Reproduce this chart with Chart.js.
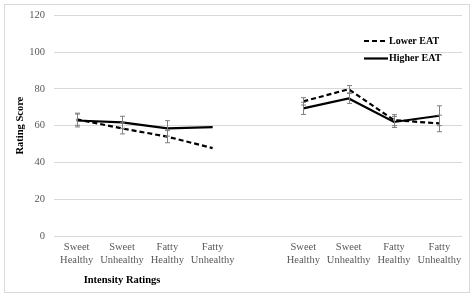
<!DOCTYPE html>
<html>
<head>
<meta charset="utf-8">
<script src="https://cdn.jsdelivr.net/npm/chart.js@4.4.1/dist/chart.umd.min.js"></script>
<style>
html,body{margin:0;padding:0;background:#fff;}
canvas{display:block;}
</style>
</head>
<body>
<canvas id="c" width="474" height="297"></canvas>
<script>
const categories = [["Sweet","Healthy"],["Sweet","Unhealthy"],["Fatty","Healthy"],["Fatty","Unhealthy"],"",["Sweet","Healthy"],["Sweet","Unhealthy"],["Fatty","Healthy"],["Fatty","Unhealthy"]];
const lowerEAT = [63.5, 58.5, 54, 47.8, null, 73.2, 79.8, 63, 61.2];
const higherEAT = [62.8, 61.8, 58.5, 59.2, null, 69.4, 74.8, 62, 65.4];
const lowerErr = [3.3, 3, 3.3, 0, null, 2, 2, 3, 4.5];
const higherErr = [3.5, 3.3, 4.2, 0, null, 3.3, 2.7, 3, 5.4];
const yTicks = [0, 20, 40, 60, 80, 100, 120];

const SERIF = "'Liberation Serif', 'Times New Roman', serif";

const errorBars = {
  id: 'errorBars',
  afterDatasetsDraw(chart) {
    const ctx = chart.ctx;
    const y = chart.scales.y;
    const errs = [lowerErr, higherErr];
    ctx.save();
    ctx.strokeStyle = '#7f7f7f';
    ctx.lineWidth = 1;
    chart.data.datasets.forEach((ds, di) => {
      const meta = chart.getDatasetMeta(di);
      meta.data.forEach((pt, i) => {
        const v = ds.data[i], e = errs[di][i];
        if (v == null || !e) return;
        const x = Math.round(pt.x) + 0.5;
        const y1 = y.getPixelForValue(v + e), y2 = y.getPixelForValue(v - e);
        ctx.beginPath();
        ctx.moveTo(x, y1); ctx.lineTo(x, y2);
        ctx.moveTo(x - 2.5, y1); ctx.lineTo(x + 2.5, y1);
        ctx.moveTo(x - 2.5, y2); ctx.lineTo(x + 2.5, y2);
        ctx.stroke();
      });
    });
    ctx.restore();
  }
};

const decor = {
  id: 'decor',
  beforeDraw(chart) {
    const ctx = chart.ctx;
    ctx.save();
    ctx.fillStyle = '#fff';
    ctx.fillRect(0, 0, chart.width, chart.height);
    ctx.strokeStyle = '#d9d9d9';
    ctx.lineWidth = 1;
    ctx.strokeRect(4.5, 4.5, 465, 288);
    ctx.restore();
  },
  afterDraw(chart) {
    const ctx = chart.ctx;
    const a = chart.chartArea;
    ctx.save();
    ctx.fillStyle = '#000';
    ctx.font = 'bold 10.5px ' + SERIF;
    ctx.save();
    ctx.translate(20, (a.top + a.bottom) / 2);
    ctx.rotate(-Math.PI / 2);
    ctx.textAlign = 'center';
    ctx.textBaseline = 'middle';
    ctx.fillText('Rating Score', 0, 0);
    ctx.restore();
    ctx.textAlign = 'center';
    ctx.textBaseline = 'middle';
    ctx.fillText('Intensity Ratings', 122, 280);
    ctx.font = 'bold 10px ' + SERIF;
    ctx.textAlign = 'left';
    ctx.lineWidth = 2.2;
    ctx.strokeStyle = '#000';
    ctx.setLineDash([5, 3]);
    ctx.beginPath(); ctx.moveTo(364, 41); ctx.lineTo(388, 41); ctx.stroke();
    ctx.setLineDash([]);
    ctx.beginPath(); ctx.moveTo(364, 58.5); ctx.lineTo(388, 58.5); ctx.stroke();
    ctx.fillText('Lower EAT', 389, 41);
    ctx.fillText('Higher EAT', 389, 58.5);
    ctx.restore();
  }
};

new Chart(document.getElementById('c'), {
  type: 'line',
  data: {
    labels: categories,
    datasets: [
      { label: 'Lower EAT', data: lowerEAT, borderColor: '#000', borderWidth: 2.2, borderDash: [5, 3], pointRadius: 0, tension: 0, spanGaps: false, fill: false },
      { label: 'Higher EAT', data: higherEAT, borderColor: '#000', borderWidth: 2.2, pointRadius: 0, tension: 0, spanGaps: false, fill: false }
    ]
  },
  options: {
    responsive: false,
    animation: false,
    layout: { padding: { left: 0, right: 12, top: 15, bottom: 0 } },
    plugins: { legend: { display: false }, tooltip: { enabled: false } },
    scales: {
      x: {
        offset: true,
        grid: { display: false, drawTicks: false },
        border: { display: false },
        ticks: { autoSkip: false, maxRotation: 0, minRotation: 0, color: '#595959', padding: 5, font: { family: SERIF, size: 10.5 } },
        afterFit(s) { s.height = 61; }
      },
      y: {
        min: 0, max: 120,
        afterBuildTicks(s) { s.ticks = yTicks.map(v => ({ value: v })); },
        grid: { color: '#d9d9d9', lineWidth: 1, drawTicks: false },
        border: { display: false },
        ticks: { color: '#595959', padding: 9, font: { family: SERIF, size: 10.5 } },
        afterFit(s) { s.width = 54; }
      }
    }
  },
  plugins: [errorBars, decor]
});
</script>
</body>
</html>
